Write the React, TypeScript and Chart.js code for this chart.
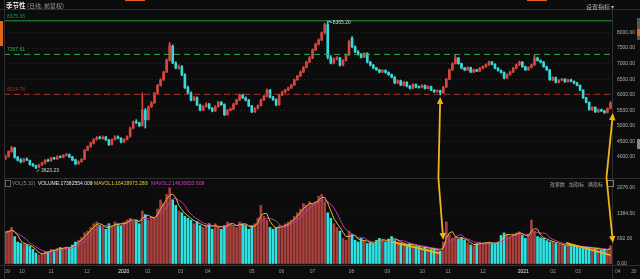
import React, { useEffect, useRef } from 'react';
import { Chart, registerables } from 'chart.js';

Chart.register(...registerables);

const opens = [
  3950, 4010, 4170, 4290, 3990, 3910, 3850, 3940, 3890, 3770,
  3720, 3670, 3740, 3800, 3900, 3880, 3980, 3940, 4020, 3990,
  4050, 4080, 4000, 3910, 3780, 3850, 3930, 4220, 4330, 4440,
  4560, 4630, 4590, 4640, 4550, 4400, 4560, 4650, 4600, 4480,
  4560, 4660, 4930, 5130, 5100, 5010, 5500, 5200, 5610, 5740,
  6050, 6300, 6480, 6730, 7110, 7560, 7020, 6850, 6900, 6640,
  6230, 6060, 5830, 5900, 5670, 5510, 5620, 5700, 5560, 5480,
  5620, 5750, 5680, 5360, 5500, 5540, 5700, 5830, 5990, 5900,
  5830, 5640, 5450, 5560, 5650, 5830, 5950, 6150, 5920, 5850,
  5680, 5990, 6080, 6150, 6220, 6310, 6480, 6600, 6730, 6880,
  7050, 7180, 7440, 7620, 7760, 7990, 8250, 7210, 7020, 7150,
  7180, 6950, 7100, 7280, 7820, 7540, 7380, 7300, 7210, 7330,
  7050, 6950, 6860, 6800, 6730, 6780, 6720, 6650, 6570, 6380,
  6450, 6310, 6400, 6280, 6210, 6330, 6250, 6240, 6300, 6200,
  6260, 6150, 6100, 6130, 6060, 6250, 6500, 6800, 7000, 7180,
  7000, 6860, 6800, 6870, 6730, 6800, 6760, 6850, 6900, 6960,
  7050, 6980, 6850, 6780, 6720, 6540, 6650, 6730, 6850, 6960,
  7050, 6900, 6800, 6880, 6960, 7180, 7100, 7050, 6900, 6800,
  6480, 6550, 6400, 6470, 6500, 6420, 6480, 6430, 6380, 6300,
  6150, 5900, 5760, 5520, 5600, 5450, 5520, 5480, 5430, 5560,
];

const closes = [
  4000, 4180, 4300, 3990, 3900, 3840, 3930, 3900, 3760, 3720,
  3660, 3740, 3810, 3900, 3870, 3970, 3940, 4010, 3990, 4060,
  4080, 4000, 3900, 3780, 3850, 3920, 4220, 4330, 4450, 4560,
  4620, 4600, 4640, 4550, 4390, 4560, 4650, 4600, 4480, 4560,
  4650, 4930, 5130, 5100, 5000, 5520, 5200, 5610, 5740, 6050,
  6300, 6480, 6730, 7110, 7600, 7020, 6860, 6900, 6640, 6220,
  6060, 5830, 5900, 5670, 5510, 5620, 5700, 5560, 5480, 5620,
  5750, 5680, 5360, 5500, 5540, 5700, 5830, 5990, 5900, 5830,
  5640, 5450, 5560, 5650, 5830, 5950, 6150, 5920, 5850, 5680,
  5990, 6080, 6150, 6220, 6310, 6480, 6600, 6730, 6880, 7050,
  7180, 7440, 7620, 7760, 7990, 8250, 7210, 7020, 7150, 7180,
  6950, 7100, 7280, 7700, 7540, 7380, 7300, 7210, 7330, 7050,
  6950, 6860, 6800, 6730, 6780, 6720, 6650, 6570, 6380, 6450,
  6310, 6400, 6280, 6210, 6330, 6250, 6240, 6300, 6200, 6260,
  6150, 6100, 6130, 6060, 6250, 6500, 6800, 7000, 7180, 7000,
  6860, 6800, 6870, 6730, 6800, 6760, 6850, 6900, 6960, 7050,
  6980, 6850, 6780, 6720, 6540, 6650, 6730, 6850, 6960, 7050,
  6900, 6800, 6880, 6960, 7180, 7100, 7050, 6900, 6800, 6480,
  6550, 6400, 6470, 6500, 6420, 6480, 6430, 6380, 6300, 6150,
  5900, 5760, 5520, 5600, 5450, 5520, 5480, 5430, 5560, 5740,
];

const highs = [
  4060, 4200, 4340, 4310, 4020, 3950, 3960, 3970, 3900, 3800,
  3740, 3770, 3840, 3920, 3930, 3990, 3990, 4040, 4040, 4080,
  4120, 4100, 4020, 3930, 3880, 3950, 4240, 4360, 4480, 4590,
  4660, 4670, 4680, 4660, 4570, 4580, 4690, 4680, 4620, 4590,
  4680, 4960, 5160, 5200, 5120, 6060, 5560, 5640, 5780, 6080,
  6330, 6520, 6760, 7150, 7680, 7600, 7060, 6960, 6940, 6680,
  6280, 6090, 5950, 5930, 5700, 5660, 5740, 5730, 5590, 5650,
  5790, 5790, 5710, 5530, 5580, 5730, 5860, 6030, 6020, 5930,
  5850, 5660, 5590, 5680, 5860, 5980, 6190, 6170, 5950, 5870,
  6020, 6120, 6180, 6250, 6340, 6510, 6630, 6770, 6910, 7080,
  7230, 7470, 7660, 7800, 8020, 8300, 8365.2, 7260, 7180, 7230,
  7200, 7130, 7310, 7760, 7870, 7570, 7420, 7330, 7360, 7350,
  7070, 6980, 6880, 6820, 6810, 6800, 6740, 6670, 6580, 6480,
  6470, 6430, 6420, 6300, 6360, 6350, 6280, 6330, 6320, 6290,
  6280, 6170, 6160, 6150, 6270, 6530, 6830, 7030, 7280, 7200,
  7020, 6880, 6900, 6890, 6830, 6820, 6880, 6930, 6990, 7080,
  7070, 7000, 6870, 6800, 6740, 6680, 6760, 6880, 6990, 7080,
  7070, 6920, 6900, 6990, 7280, 7210, 7120, 7070, 6920, 6810,
  6580, 6570, 6490, 6530, 6520, 6500, 6500, 6450, 6400, 6320,
  6160, 5920, 5770, 5620, 5610, 5550, 5540, 5500, 5580, 5780,
];

const lows = [
  3920, 3990, 4150, 3960, 3870, 3810, 3830, 3880, 3740, 3700,
  3623.23, 3650, 3720, 3780, 3850, 3860, 3920, 3920, 3970, 3970,
  4030, 3980, 3880, 3750, 3760, 3830, 3910, 4200, 4310, 4420,
  4540, 4580, 4570, 4530, 4370, 4380, 4540, 4580, 4450, 4460,
  4540, 4640, 4900, 5070, 4980, 4990, 4930, 5180, 5590, 5720,
  6030, 6280, 6460, 6710, 7080, 7000, 6830, 6820, 6610, 6200,
  6030, 5800, 5810, 5650, 5480, 5490, 5600, 5540, 5450, 5460,
  5600, 5660, 5330, 5340, 5480, 5520, 5680, 5810, 5880, 5800,
  5620, 5420, 5430, 5540, 5630, 5810, 5930, 5900, 5820, 5650,
  5660, 5970, 6060, 6130, 6200, 6290, 6460, 6580, 6710, 6860,
  7030, 7160, 7420, 7600, 7740, 7950, 7150, 6990, 6990, 7120,
  6920, 6930, 7080, 7260, 7510, 7350, 7270, 7180, 7190, 7020,
  6920, 6830, 6780, 6700, 6710, 6690, 6620, 6540, 6350, 6360,
  6290, 6280, 6250, 6190, 6190, 6220, 6210, 6220, 6180, 6180,
  6130, 6070, 6080, 5990, 6040, 6230, 6480, 6780, 6980, 6980,
  6830, 6770, 6780, 6710, 6710, 6740, 6740, 6830, 6880, 6940,
  6960, 6830, 6760, 6690, 6510, 6520, 6630, 6710, 6830, 6940,
  6880, 6780, 6780, 6860, 6940, 7080, 7020, 6880, 6780, 6460,
  6450, 6380, 6380, 6450, 6400, 6400, 6410, 6350, 6280, 6130,
  5880, 5740, 5500, 5490, 5430, 5430, 5460, 5400, 5410, 5540,
];

const volumes = [
  870, 900, 1000, 750, 600, 570, 540, 520, 480, 400,
  300, 250, 280, 350, 330, 400, 380, 420, 450, 430,
  460, 440, 520, 600, 650, 720, 850, 900, 1000, 1100,
  1150, 1050, 1000, 950, 1100, 1000, 1150, 1100, 1050, 1150,
  1200, 1250, 1150, 1200, 1100, 1450, 1350, 1200, 1300, 1250,
  1500, 1750, 1650, 1900, 2076, 1750, 1600, 1450, 1400, 1300,
  1250, 1200, 1100, 1150, 1050, 1000, 1050, 1100, 950, 1100,
  1000, 950, 1050, 1150, 1100, 1050, 1000, 1150, 1100, 1050,
  950, 1050, 1100, 1250, 1600, 1300, 1200, 1000, 950, 1000,
  1050, 1000, 1100, 1150, 1200, 1300, 1400, 1500, 1650, 1600,
  1700, 1650, 1700, 1850, 1900, 1700, 1400, 1250, 1100, 1000,
  900, 700, 650, 900, 800, 650, 600, 700, 620, 560,
  580, 560, 650, 700, 650, 600, 680, 750, 640, 600,
  560, 540, 520, 560, 500, 480, 470, 440, 460, 420,
  400, 420, 380, 350, 600, 1150, 800, 700, 750, 680,
  720, 650, 580, 520, 500, 560, 600, 550, 580, 600,
  560, 540, 600, 780, 850, 800, 750, 820, 850, 880,
  780, 700, 800, 1200, 900, 750, 720, 700, 640, 600,
  620, 560, 540, 520, 500, 520, 480, 500, 460, 440,
  480, 450, 430, 440, 410, 420, 380, 400, 370, 500,
];

const monthTickPos = [0.5, 5.4, 15, 26.8, 38.9, 46.8, 57.6, 66.5, 81, 90.8, 101, 113.8, 125.6, 137.1, 145.6, 157.1, 170.3, 180.1, 188.3];
const monthTickLabels = ['09', '10', '11', '12', '2020', '02', '03', '04', '05', '06', '07', '08', '09', '10', '11', '12', '2021', '02', '03'];

const priceTicks = [4000, 4500, 5000, 5500, 6000, 6500, 7000, 7500, 8000];
const volumeTicks = [0, 346, 692, 1038, 1384, 1730, 2076];

const refLineValues = [8375.36, 7297.61, 6014.78];
const refLineLabels = ['8375.36', '7297.61', '6014.78'];
const refLineColors = ['#1f9a3c', '#2fae55', '#b03030'];
const refLineDashed = [false, true, true];

const MA1_WINDOW = 3;
const MA2_WINDOW = 6;

const volumeLegendLabels = ['VOL(5,10)', 'VOLUME:17382554.000', 'MAVOL1:16428973.280', 'MAVOL2:14630653.608'];

const arrowStarts = [
  { x: 142.4, y: 3360, axis: 'y' },
  { x: 142.4, y: 2349, axis: 'yv' },
  { x: 197.7, y: 3360, axis: 'y' },
  { x: 197.7, y: 2349, axis: 'yv' },
];
const arrowEnds = [
  { x: 143.0, y: 5930, axis: 'y' },
  { x: 144.0, y: 655, axis: 'yv' },
  { x: 199.8, y: 5410, axis: 'y' },
  { x: 199.8, y: 573, axis: 'yv' },
];
const trendStartIdx = [127.6, 184.7];
const trendStartVol = [600, 573];
const trendEndIdx = [142.4, 198.8];
const trendEndVol = [300, 246];

const UP = '#d4463f';
const DOWN = '#38d8d8';
const VOL_UP = '#a8413d';
const VOL_DOWN = '#2fe2e2';
const ANNOT = '#f2b418';

const NUM_FONT = '"Liberation Sans", Arial, sans-serif';
const CJK_FONT = '"Noto Sans CJK SC", sans-serif';

function movingAverage(values: number[], n: number): number[] {
  return values.map((_, i) => {
    const s = Math.max(0, i - n + 1);
    let sum = 0;
    for (let k = s; k <= i; k++) sum += values[k];
    return sum / (i - s + 1);
  });
}

function drawArrow(ctx: CanvasRenderingContext2D, x0: number, y0: number, x1: number, y1: number) {
  const ang = Math.atan2(y1 - y0, x1 - x0);
  const len = 7;
  const hw = 3.2;
  const bx = x1 - len * Math.cos(ang);
  const by = y1 - len * Math.sin(ang);
  ctx.beginPath();
  ctx.moveTo(x0, y0);
  ctx.lineTo(bx, by);
  ctx.stroke();
  ctx.beginPath();
  ctx.moveTo(x1, y1);
  ctx.lineTo(bx + hw * Math.sin(ang), by - hw * Math.cos(ang));
  ctx.lineTo(bx - hw * Math.sin(ang), by + hw * Math.cos(ang));
  ctx.closePath();
  ctx.fill();
}

const overlayPlugin = {
  id: 'overlay',
  beforeDraw(chart: any) {
    const { ctx, width, height } = chart;
    ctx.save();
    ctx.fillStyle = '#0c0c0c';
    ctx.fillRect(0, 0, width, height);
    ctx.restore();
  },
  afterDraw(chart: any) {
    const { ctx, chartArea, width, height } = chart;
    const xs = chart.scales.x;
    const ys = chart.scales.y;
    const yv = chart.scales.yv;
    ctx.save();

    ctx.strokeStyle = '#2e2e2e';
    ctx.lineWidth = 1;
    const hl = (y: number, x0: number, x1: number) => {
      ctx.beginPath();
      ctx.moveTo(x0, Math.round(y) + 0.5);
      ctx.lineTo(x1, Math.round(y) + 0.5);
      ctx.stroke();
    };
    const vl = (x: number, y0: number, y1: number) => {
      ctx.beginPath();
      ctx.moveTo(Math.round(x) + 0.5, y0);
      ctx.lineTo(Math.round(x) + 0.5, y1);
      ctx.stroke();
    };
    hl(chartArea.top - 1, 0, width);
    hl(yv.top, chartArea.left, width);
    hl(chartArea.bottom, 0, width);
    vl(chartArea.right, chartArea.top - 1, height);
    vl(chartArea.left - 0.5, 0, height);

    ctx.fillStyle = '#e2641e';
    ctx.fillRect(0, 21, 3, 25);
    ctx.fillRect(125, 0, 20, 1);
    ctx.fillRect(527, 0, 20, 1);
    ctx.fillStyle = '#555';
    ctx.fillRect(637, 18, 3, 22);
    ctx.fillStyle = '#e2641e';
    ctx.fillRect(637, 29, 3, 7);
    ctx.fillStyle = '#888';
    ctx.fillRect(637, 139, 3, 10);

    ctx.textBaseline = 'middle';
    ctx.textAlign = 'left';
    ctx.font = `bold 6.5px ${CJK_FONT}`;
    ctx.fillStyle = '#e6e6e6';
    ctx.fillText('季节性', 6, 6);
    ctx.font = `6px ${CJK_FONT}`;
    ctx.fillStyle = '#9a9a9a';
    ctx.fillText('(日线, 前复权)', 27, 6);
    ctx.fillStyle = '#b5b5b5';
    ctx.fillText('设置指标 ▾', 586, 7);

    ctx.font = `5px ${NUM_FONT}`;
    refLineValues.forEach((v, i) => {
      const py = ys.getPixelForValue(v);
      ctx.fillStyle = refLineColors[i];
      ctx.fillText(refLineLabels[i], 7, py - 4.5);
    });

    let maxI = 0;
    let minI = 0;
    highs.forEach((h, i) => { if (h > highs[maxI]) maxI = i; });
    lows.forEach((l, i) => { if (l < lows[minI]) minI = i; });
    ctx.strokeStyle = '#d8d8d8';
    ctx.fillStyle = '#d8d8d8';
    const px = xs.getPixelForValue(maxI);
    const py = ys.getPixelForValue(highs[maxI]);
    ctx.beginPath();
    ctx.moveTo(px + 1, py);
    ctx.lineTo(px + 4, py + 1.5);
    ctx.stroke();
    ctx.fillText(highs[maxI].toFixed(2), px + 5, py + 1);
    const lx = xs.getPixelForValue(minI);
    const ly = ys.getPixelForValue(lows[minI]);
    ctx.beginPath();
    ctx.moveTo(lx + 1, ly + 3);
    ctx.lineTo(lx + 3, ly + 1);
    ctx.stroke();
    ctx.fillText(lows[minI].toFixed(2), lx + 5, ly + 2);

    const ly2 = yv.top + 6;
    ctx.strokeStyle = '#666';
    ctx.strokeRect(5.5, ly2 - 3.5, 5, 6);
    ctx.font = `5px ${NUM_FONT}`;
    ctx.fillStyle = '#8a8a8a';
    ctx.fillText(volumeLegendLabels[0], 12, ly2);
    ctx.fillStyle = '#e8e8e8';
    ctx.fillText(volumeLegendLabels[1], 38, ly2);
    ctx.fillText('↑', 90, ly2);
    ctx.fillStyle = '#e8c23a';
    ctx.fillText(volumeLegendLabels[2], 94, ly2);
    ctx.fillText('↑', 146, ly2);
    ctx.fillStyle = '#d23cd2';
    ctx.fillText(volumeLegendLabels[3], 151, ly2);
    ctx.fillText('↑', 202, ly2);
    ctx.font = `5px ${CJK_FONT}`;
    ctx.fillStyle = '#a8a8a8';
    ctx.fillText('改参数', 550, ly2);
    ctx.fillText('加指标', 569, ly2);
    ctx.fillText('换指标', 588, ly2);
    ctx.strokeStyle = '#777';
    ctx.strokeRect(607.5, ly2 - 3.5, 6, 6);

    ctx.font = `5px ${NUM_FONT}`;
    ctx.fillStyle = '#9a9a9a';
    ctx.fillText('04', 615, 272);
    ctx.fillText('30', 631, 272);

    ctx.strokeStyle = ANNOT;
    ctx.fillStyle = ANNOT;
    ctx.lineWidth = 1.8;
    ctx.lineCap = 'round';
    for (let i = 0; i < trendStartIdx.length; i++) {
      ctx.beginPath();
      ctx.moveTo(xs.getPixelForValue(trendStartIdx[i]), yv.getPixelForValue(trendStartVol[i]));
      ctx.lineTo(xs.getPixelForValue(trendEndIdx[i]), yv.getPixelForValue(trendEndVol[i]));
      ctx.stroke();
    }
    for (let i = 0; i < arrowStarts.length; i++) {
      const s = arrowStarts[i];
      const e = arrowEnds[i];
      drawArrow(
        ctx,
        xs.getPixelForValue(s.x), chart.scales[s.axis].getPixelForValue(s.y),
        xs.getPixelForValue(e.x), chart.scales[e.axis].getPixelForValue(e.y),
      );
    }
    ctx.restore();
  },
};

export default function App() {
  const canvasRef = useRef<HTMLCanvasElement | null>(null);

  useEffect(() => {
    const canvas = canvasRef.current;
    if (!canvas) return;
    const n = closes.length;
    const candleColors = closes.map((c, i) => (c >= opens[i] ? UP : DOWN));
    const volColors = closes.map((c, i) => (c >= opens[i] ? VOL_UP : VOL_DOWN));
    const ma1 = movingAverage(volumes, MA1_WINDOW);
    const ma2 = movingAverage(volumes, MA2_WINDOW);

    const refDatasets = refLineValues.map((v, i) => ({
      type: 'line' as const,
      data: [{ x: -0.5, y: v }, { x: n - 0.5, y: v }],
      borderColor: refLineColors[i],
      borderWidth: 1,
      borderDash: refLineDashed[i] ? [6, 4] : [],
      pointRadius: 0,
      yAxisID: 'y',
      order: 0,
    }));

    const chart = new Chart(canvas, {
      type: 'bar',
      data: {
        datasets: [
          ...refDatasets,
          {
            type: 'line',
            data: ma1.map((v, i) => ({ x: i, y: v })),
            borderColor: '#e0b83a',
            borderWidth: 1,
            pointRadius: 0,
            tension: 0,
            yAxisID: 'yv',
            order: 0,
          },
          {
            type: 'line',
            data: ma2.map((v, i) => ({ x: i, y: v })),
            borderColor: '#c832c8',
            borderWidth: 1,
            pointRadius: 0,
            tension: 0.2,
            yAxisID: 'yv',
            order: 0,
          },
          {
            type: 'bar',
            data: opens.map((o, i) => ({ x: i, y: [o, closes[i]] })),
            backgroundColor: candleColors,
            barThickness: 2,
            minBarLength: 1,
            grouped: false,
            yAxisID: 'y',
            order: 1,
          },
          {
            type: 'bar',
            data: lows.map((l, i) => ({ x: i, y: [l, highs[i]] })),
            backgroundColor: candleColors,
            barThickness: 1,
            grouped: false,
            yAxisID: 'y',
            order: 2,
          },
          {
            type: 'bar',
            data: volumes.map((v, i) => ({ x: i, y: v })),
            backgroundColor: volColors,
            barThickness: 2,
            grouped: false,
            yAxisID: 'yv',
            order: 3,
          },
        ] as any,
      },
      options: {
        responsive: false,
        maintainAspectRatio: false,
        devicePixelRatio: 1,
        animation: false,
        layout: { padding: { top: 10, left: 4, right: 0, bottom: 0 } },
        plugins: { legend: { display: false }, tooltip: { enabled: false } },
        scales: {
          x: {
            type: 'linear',
            min: -0.5,
            max: n - 0.5,
            offset: false,
            grid: { display: false, drawTicks: false },
            border: { display: false },
            afterBuildTicks: (s: any) => { s.ticks = monthTickPos.map((p) => ({ value: p })); },
            afterFit: (s: any) => { s.height = 14; },
            ticks: {
              autoSkip: false,
              maxRotation: 0,
              padding: 4,
              font: { size: 5, family: NUM_FONT },
              color: (c: any) => (monthTickLabels[c.index] && monthTickLabels[c.index].length === 4 ? '#e8e8e8' : '#9a9a9a'),
              callback: (_v: any, i: number) => monthTickLabels[i],
            },
          },
          y: {
            type: 'linear',
            position: 'right',
            stack: 'panes',
            stackWeight: 168,
            min: 3325,
            max: 8723,
            offset: false,
            border: { display: false, dash: [1, 3] },
            grid: { color: 'rgba(255,255,255,0.12)', drawTicks: false },
            afterBuildTicks: (s: any) => { s.ticks = priceTicks.map((v) => ({ value: v })); },
            afterFit: (s: any) => { s.width = 28; },
            ticks: {
              padding: 5,
              font: { size: 5, family: NUM_FONT },
              color: '#b0b0b0',
              callback: (v: any) => Number(v).toFixed(2),
            },
          },
          yv: {
            type: 'linear',
            position: 'right',
            stack: 'panes',
            stackWeight: 87,
            min: -27,
            max: 2349,
            offset: false,
            border: { display: false, dash: [1, 3] },
            grid: { color: 'rgba(255,255,255,0.08)', drawTicks: false },
            afterBuildTicks: (s: any) => { s.ticks = volumeTicks.map((v) => ({ value: v })); },
            afterFit: (s: any) => { s.width = 28; },
            ticks: {
              padding: 5,
              font: { size: 5, family: NUM_FONT },
              color: '#b0b0b0',
              callback: (v: any) => Number(v).toFixed(2),
            },
          },
        },
      } as any,
      plugins: [overlayPlugin],
    });
    return () => chart.destroy();
  }, []);

  return (
    <div style={{ position: 'fixed', left: 0, top: 0, width: 640, height: 279, background: '#0c0c0c' }}>
      <canvas ref={canvasRef} width={640} height={279} style={{ display: 'block', width: 640, height: 279 }} />
    </div>
  );
}
